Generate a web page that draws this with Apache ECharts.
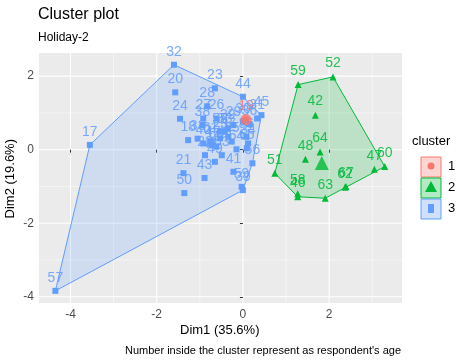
<!DOCTYPE html>
<html><head><meta charset="utf-8">
<script src="https://cdn.jsdelivr.net/npm/echarts@6/dist/echarts.min.js"></script>
<style>html,body{margin:0;padding:0;background:#fff}#c{width:474px;height:364px}</style>
</head><body><div id="c"></div>
<script>
// ---- data ----
const clusterNames = ['1', '2', '3'];
const clusterColors = ['#F8766D', '#00BA38', '#619CFF'];

const c1X = [0.07];
const c1Y = [0.82];
const c1Lab = ['19'];

const c2X = [1.28, 2.09, 1.68, 1.79, 1.45, 0.74, 1.27, 1.27, 1.91, 2.37, 2.39, 3.05, 3.29];
const c2Y = [1.77, 1.98, 0.94, -0.06, -0.26, -0.64, -1.28, -1.20, -1.32, -1.02, -1.00, -0.53, -0.46];
const c2Lab = ['59', '52', '42', '64', '48', '51', '46', '58', '63', '62', '67', '47', '60'];

const c3X = [-1.60, -1.57, -0.65, 0.00, 0.43, 0.33, -0.83, -1.46, -3.55, -4.35, 0.00, -0.03, -1.36, -1.38, -0.89, -0.22, 0.22,
             -1.27, -0.94, -0.92, -0.61, -0.22, 0.00, -0.53, 0.08, -0.42, -0.34, -0.53, -0.26, -0.92, 0.12, -0.88, -0.65, -0.49,
             -0.15, 0.09, -0.75, -0.62, -1.05, -0.70, -0.35, 0.15];
const c3Y = [2.31, 1.56, 1.67, 1.44, 0.94, 0.85, 1.18, 0.84, 0.13, -3.84, -1.10, -1.01, -1.18, -0.64, -0.77, -0.60, -0.37,
             0.26, 0.67, 0.85, 0.85, 0.67, 0.76, 0.49, 0.35, 0.49, 0.35, 0.31, 0.22, 0.17, 0.17, -0.15, -0.33, -0.15,
             0.01, 0.04, 0.22, 0.08, 0.30, 0.12, 0.58, 0.70];
const c3Lab = ['32', '20', '23', '44', '45', '31', '28', '24', '17', '57', '39', '59', '50', '21', '43', '41', '56',
               '18', '38', '27', '26', '29', '30', '55', '36', '33', '37', '25', '35', '40', '34', '22', '49', '53',
               '54', '65', '61', '66', '33', '47', '39', '36'];

const centerX = [0.07, 1.83, -0.73];
const centerY = [0.82, -0.36, 0.19];

const xTicks = [-4, -2, 0, 2];
const yTicks = [-4, -2, 0, 2];
const xMinor = [-3, -1, 1, 3];
const yMinor = [-3, -1, 1];

const xMin = -4.73, xMax = 3.69, yMin = -4.17, yMax = 2.63;

// ---- helpers ----
function hull(xs, ys) {
  const pts = xs.map((x, i) => [x, ys[i]]).sort((a, b) => a[0] - b[0] || a[1] - b[1]);
  if (pts.length < 3) return pts;
  const cross = (o, a, b) => (a[0] - o[0]) * (b[1] - o[1]) - (a[1] - o[1]) * (b[0] - o[0]);
  const lower = [];
  for (const p of pts) { while (lower.length >= 2 && cross(lower[lower.length - 2], lower[lower.length - 1], p) <= 0) lower.pop(); lower.push(p); }
  const upper = [];
  for (let i = pts.length - 1; i >= 0; i--) { const p = pts[i]; while (upper.length >= 2 && cross(upper[upper.length - 2], upper[upper.length - 1], p) <= 0) upper.pop(); upper.push(p); }
  upper.pop(); lower.pop();
  return lower.concat(upper);
}
function hexA(hex, a) {
  const n = parseInt(hex.slice(1), 16);
  return `rgba(${(n >> 16) & 255},${(n >> 8) & 255},${n & 255},${a})`;
}

const clusters = [
  { x: c1X, y: c1Y, lab: c1Lab, sym: 'circle', size: 6 },
  { x: c2X, y: c2Y, lab: c2Lab, sym: 'triangle', size: 7 },
  { x: c3X, y: c3Y, lab: c3Lab, sym: 'rect', size: 6 }
];
const centerSym = ['circle', 'triangle', 'rect'];
const centerSize = [11, 14, 10];

const FONT = 'Liberation Sans, Arial, sans-serif';
const series = [];

// grid lines (panel background lines)
const gridData = [];
xTicks.forEach(v => gridData.push([v, 0, 1]));
xMinor.forEach(v => gridData.push([v, 0, 0]));
yTicks.forEach(v => gridData.push([0, v, 3]));
yMinor.forEach(v => gridData.push([0, v, 2]));
series.push({
  type: 'custom', z: 0, silent: true, clip: true,
  data: gridData,
  encode: { x: 0, y: 1 },
  renderItem: (params, api) => {
    const kind = api.value(2);
    let p1, p2;
    if (kind < 2) { p1 = api.coord([api.value(0), yMin]); p2 = api.coord([api.value(0), yMax]); }
    else { p1 = api.coord([xMin, api.value(1)]); p2 = api.coord([xMax, api.value(1)]); }
    const major = (kind === 1 || kind === 3);
    return { type: 'line', shape: { x1: p1[0], y1: p1[1], x2: p2[0], y2: p2[1] },
      style: { stroke: '#FFFFFF', lineWidth: major ? 1.1 : 0.5 } };
  }
});

// hulls
clusters.forEach((c, k) => {
  const h = hull(c.x, c.y);
  if (h.length < 3) return;
  series.push({
    type: 'custom', z: 1, silent: true,
    data: [[h[0][0], h[0][1]]],
    renderItem: (params, api) => ({
      type: 'polygon',
      shape: { points: h.map(p => api.coord(p)) },
      style: { fill: hexA(clusterColors[k], 0.2), stroke: clusterColors[k], lineWidth: 1 }
    })
  });
});

// points with labels
clusters.forEach((c, k) => {
  series.push({
    type: 'scatter', z: 3, name: clusterNames[k],
    symbol: c.sym, symbolSize: c.size,
    itemStyle: { color: clusterColors[k], opacity: 1 },
    label: { show: true, position: 'top', distance: 3, formatter: '{b}',
      color: hexA(clusterColors[k], 0.85), fontSize: 14, fontFamily: FONT },
    labelLayout: { hideOverlap: false },
    data: c.x.map((x, i) => ({ value: [x, c.y[i]], name: c.lab[i] }))
  });
});

// centers
clusters.forEach((c, k) => {
  series.push({
    type: 'scatter', z: 4, silent: true,
    symbol: centerSym[k], symbolSize: centerSize[k],
    itemStyle: { color: clusterColors[k] },
    data: [[centerX[k], centerY[k]]]
  });
});

// legend graphics
const legendG = [
  { type: 'text', left: 412, top: 135, style: { text: 'cluster', font: '13px ' + FONT, fill: '#000' } }
];
clusterColors.forEach((col, k) => {
  const y0 = 157 + k * 21;
  legendG.push({ type: 'rect', shape: { x: 421, y: y0, width: 20, height: 20 },
    style: { fill: hexA(col, 0.3), stroke: col, lineWidth: 1 } });
  if (k === 0) legendG.push({ type: 'circle', shape: { cx: 431, cy: y0 + 9, r: 3.5 }, style: { fill: col } });
  if (k === 1) legendG.push({ type: 'polygon', shape: { points: [[431, y0 + 3], [437, y0 + 14], [425, y0 + 14]] }, style: { fill: col } });
  if (k === 2) legendG.push({ type: 'rect', shape: { x: 428, y: y0 + 5, width: 6, height: 9 }, style: { fill: col } });
  legendG.push({ type: 'text', left: 448, top: y0 + 3, style: { text: clusterNames[k], font: '13px ' + FONT, fill: '#000' } });
});

const option = {
  animation: false,
  backgroundColor: '#FFFFFF',
  grid: { left: 39, right: 72, top: 53, bottom: 61, show: true, backgroundColor: '#EBEBEB', borderWidth: 0 },
  xAxis: {
    type: 'value', min: xMin, max: xMax,
    axisLine: { show: false },
    axisTick: { show: true, customValues: xTicks, length: 3, lineStyle: { color: '#333333' } },
    axisLabel: { customValues: xTicks, color: '#4D4D4D', fontSize: 12, margin: 6, fontFamily: FONT },
    splitLine: { show: false }
  },
  yAxis: {
    type: 'value', min: yMin, max: yMax,
    axisLine: { show: false },
    axisTick: { show: true, customValues: yTicks, length: 3, lineStyle: { color: '#333333' } },
    axisLabel: { customValues: yTicks, color: '#4D4D4D', fontSize: 12, margin: 5, fontFamily: FONT },
    splitLine: { show: false }
  },
  graphic: [
    { type: 'text', left: 38, top: 7, style: { text: 'Cluster plot', font: '16px ' + FONT, fill: '#000' } },
    { type: 'text', left: 38, top: 32, style: { text: 'Holiday-2', font: '12px ' + FONT, fill: '#000' } },
    { type: 'text', left: 180, top: 324, style: { text: 'Dim1 (35.6%)', font: '13px ' + FONT, fill: '#000' } },
    { type: 'text', left: 4, top: 139, rotation: Math.PI / 2, originX: 0, originY: 0,
      style: { text: 'Dim2 (19.6%)', font: '13px ' + FONT, fill: '#000', x: -40, y: 0 } },
    { type: 'text', right: 73, top: 345, style: { text: "Number inside the cluster represent as respondent's age", font: '11px ' + FONT, fill: '#000' } }
  ].concat(legendG),
  series: series
};

const chart = echarts.init(document.getElementById('c'), null, { renderer: 'canvas' });
chart.setOption(option);
</script>
</body></html>
